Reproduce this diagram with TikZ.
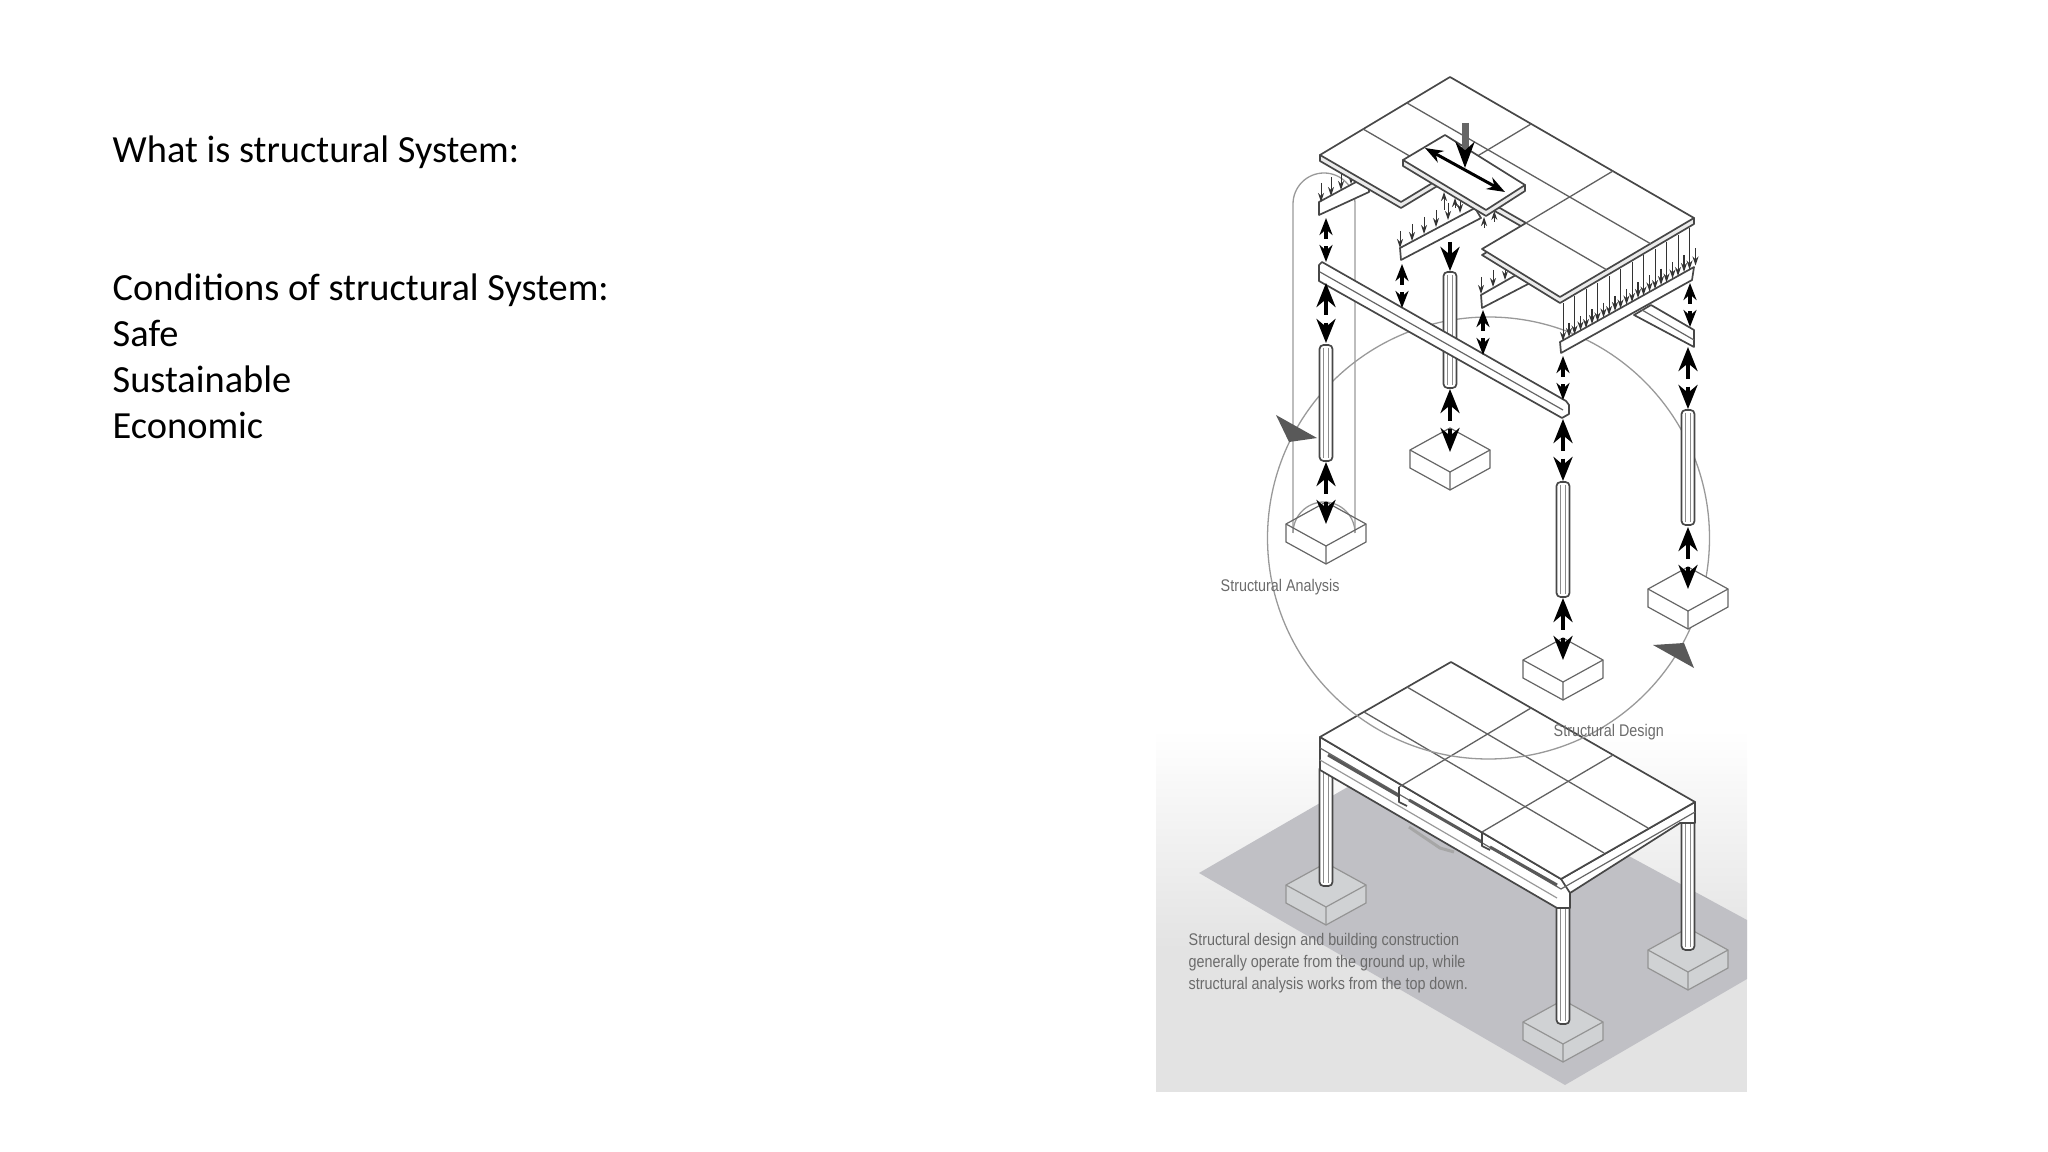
\documentclass[tikz,border=0pt]{standalone}
\usepackage{fontspec}
\setmainfont{Carlito}
\newfontfamily\figfont[FakeStretch=0.85]{Liberation Sans}
\usetikzlibrary{arrows.meta}
\definecolor{groundgrey}{RGB}{192,192,197}
\definecolor{footgrey}{RGB}{208,210,212}
\tikzset{
	frame/.style={line width=0.17mm, draw=black!72, line join=round},
	edge/.style={line width=0.12mm, draw=black!60},
	grid/.style={line width=0.13mm, draw=black!62},
	ghost/.style={line width=0.13mm, draw=black!40},
	heavyload/.style={line width=0.45mm, {Stealth[length=2.4mm,width=1.9mm]}-{Stealth[length=2.4mm,width=1.9mm]}, dash pattern=on 1.7mm off 0.8mm},
	smallload/.style={line width=0.35mm, {Stealth[length=1.7mm,width=1.3mm]}-{Stealth[length=1.7mm,width=1.3mm]}, dash pattern=on 1.1mm off 0.7mm},
	thinload/.style={line width=0.1mm, draw=black!80, -{Stealth[length=0.9mm,width=0.6mm]}},
	maintext/.style={anchor=base west, inner sep=0pt, font=\fontsize{10.92pt}{12pt}\selectfont},
	figtext/.style={anchor=base west, inner sep=0pt, text=black!58, font=\figfont\fontsize{4.8pt}{5pt}\selectfont}
}
\def\footing[#1](#2,#3){\draw[edge, #1] (#2,#3) -- ++(40,22) -- ++(0,18) -- ++(-40,22) -- ++(-40,-22) -- ++(0,-18) -- cycle;
	\draw[edge, #1, fill=none] (#2-40,#3+22) -- (#2,#3+44) -- (#2+40,#3+22) (#2,#3+44) -- (#2,#3+62);}
\def\strut(#1,#2,#3){\draw[frame, fill=white, rounded corners=0.4mm] (#1-6.5,#2) rectangle (#1+6.5,#3);
	\draw[edge, draw=black!45] (#1-2.5,#2+3) -- (#1-2.5,#3-3) (#1+2.5,#2+3) -- (#1+2.5,#3-3);}

\begin{document}
\begin{tikzpicture}[x=0.01cm, y=-0.01cm]
			\useasboundingbox (0, 0) rectangle (2048, 1152);
			
			%%%%% TEXT %%%%%
			\node[maintext] (whatis) at (112, 163) {What is structural System:};
			\node[maintext] (conditions) at (112, 301) {Conditions of structural System:};
			\node[maintext] (safe) at (112, 347) {Safe};
			\node[maintext] (sustainable) at (112, 393) {Sustainable};
			\node[maintext] (economic) at (112, 439) {Economic};
			
			%%%%% GROUND %%%%%
			\shade[top color=white, bottom color=black!11] (1156, 730) rectangle (1747, 950);
			\fill[black!11] (1156, 950) rectangle (1747, 1092);
			\fill[groundgrey] (1199, 873) -- (1422, 744) -- (1747, 920) -- (1747, 979) -- (1565, 1085) -- cycle;
			
			\footing[draw=black!42, fill=footgrey](1326, 863);
			\footing[draw=black!42, fill=footgrey](1688, 928);
			\footing[draw=black!42, fill=footgrey](1563, 1000);
			\draw[line width=0.3mm, draw=black!35] (1409, 827) -- (1440, 848) -- (1454, 852);
			
			%%%%% BUILT TABLE %%%%%
			\strut(1326, 765, 886);
			\strut(1688, 820, 950);
			\strut(1563, 900, 1024);
			
			\draw[frame, fill=white] (1320, 737) -- (1561, 879) -- (1570, 879) -- (1570, 908) -- (1557, 908) -- (1320, 770) -- cycle;
			\draw[frame, fill=white] (1561, 879) -- (1695, 802) -- (1695, 823) -- (1680, 823) -- (1570, 893) -- cycle;
			\draw[edge] (1320, 748) -- (1561, 889) -- (1695, 812);
			\draw[edge, draw=black!40] (1320, 760) -- (1557, 898);
			\draw[line width=0.3mm, draw=black!65] (1328, 755) -- (1399, 796);
			\draw[line width=0.3mm, draw=black!65] (1409, 800) -- (1482, 842);
			\draw[line width=0.3mm, draw=black!65] (1490, 847) -- (1557, 885);
			\draw[frame] (1399, 787) -- (1399, 802) -- (1407, 806);
			\draw[frame] (1482, 830) -- (1482, 846) -- (1490, 850);
			
			\draw[frame, fill=white] (1451, 662) -- (1320, 737) -- (1561, 879) -- (1695, 802) -- cycle;
			\draw[grid] (1407, 687) -- (1648, 828);
			\draw[grid] (1364, 712) -- (1604, 853);
			\draw[grid] (1531, 708) -- (1399, 787);
			\draw[grid] (1613, 755) -- (1482, 832);
			
			\node[figtext] (captiona) at (1188, 945) {Structural design and building construction};
			\node[figtext] (captionb) at (1188, 967) {generally operate from the ground up, while};
			\node[figtext] (captionc) at (1188, 989) {structural analysis works from the top down.};
			
			%%%%% CYCLE %%%%%
			\draw[ghost] (1488.5, 538) circle (221);
			\draw[ghost, rounded corners=3.1mm] (1293, 533) -- (1293, 173) -- (1355, 173) -- (1355, 533);
			\draw[ghost] (1293, 533) arc (180:360:31);
			\fill[black!65] (1276, 415) -- (1317, 438) -- (1289, 442) -- cycle;
			\fill[black!65] (1653, 645) -- (1684, 643) -- (1694, 668) -- cycle;
			\node[figtext] (analysis) at (1220, 592) {Structural Analysis};
			\node[figtext] (design) at (1553, 736) {Structural Design};
			
			%%%%% FOOTINGS AND COLUMNS %%%%%
			\footing[fill=white](1450, 428);
			\footing[](1326, 502);
			\footing[fill=white](1563, 638);
			\footing[fill=white](1688, 567);
			
			\strut(1326, 345, 461);
			\strut(1450, 272, 388);
			\strut(1563, 482, 597);
			\strut(1688, 410, 525);
			
			%%%%% BEAMS %%%%%
			\draw[frame, fill=white] (1651, 305) -- (1694, 330) -- (1694, 347) -- (1634, 315) -- cycle;
			\draw[edge] (1642, 310) -- (1694, 340);
			
			\draw[frame, fill=white] (1322, 262) -- (1566, 401) -- (1569, 405) -- (1569, 414) -- (1562, 418) -- (1319, 281) -- (1319, 265) -- cycle;
			\draw[edge] (1320, 272) -- (1563, 410);
			
			\draw[frame, fill=white] (1319, 202) -- (1369, 175) -- (1369, 192) -- (1319, 215) -- cycle;
			\draw[frame, fill=white] (1400, 248) -- (1475, 208) -- (1481, 218) -- (1401, 260) -- cycle;
			\draw[frame, fill=white] (1481, 295) -- (1530, 267) -- (1530, 283) -- (1482, 308) -- cycle;
			\draw[frame, fill=white] (1560, 342) -- (1694, 267) -- (1692, 280) -- (1561, 353) -- cycle;
			
			%%%%% THIN LOADS %%%%%
			\foreach \k in {0,...,3}{\draw[thinload] ({1321+10*\k}, {183-6*\k}) -- ({1321+10*\k}, {202-6*\k});}
			\foreach \k in {0,...,5}{\draw[thinload] ({1400+12*\k}, {231-7*\k}) -- ({1400+12*\k}, {248-7*\k});}
			\foreach \k in {0,...,3}{\draw[thinload] ({1481+12*\k}, {277-7*\k}) -- ({1481+12*\k}, {294-7*\k});}
			\foreach \k in {0,...,11}{\draw[thinload] ({1563+11.5*\k}, {303-6.8*\k}) -- ({1563+11.5*\k}, {341-6.5*\k});}
			\foreach \k in {0,...,11}{\draw[thinload, line width=0.18mm] ({1569+11.5*\k}, {323-6.8*\k}) -- ({1569+11.5*\k}, {337-6.5*\k});}
			\foreach \k in {0,...,4}{\draw[thinload] ({1484+10.3*\k}, {228-6*\k}) -- ({1484+10.3*\k}, {217-6*\k});}
			\draw[thinload] (1403, 182) -- (1403, 167);
			\draw[thinload] (1412, 182) -- (1412, 172);
			\draw[thinload] (1444, 210) -- (1444, 192);
			\draw[thinload] (1455, 208) -- (1455, 198);
			
			%%%%% SLABS %%%%%
			\draw[frame, fill=black!8] (1320, 155) -- (1320, 161) -- (1401, 208) -- (1444, 182) -- (1526, 229) -- (1482, 255) -- (1560, 303) -- (1694, 224) -- (1694, 218) -- cycle;
			\draw[frame, fill=white] (1320, 155) -- (1450, 77) -- (1694, 218) -- (1560, 297) -- (1482, 249) -- (1526, 223) -- (1444, 176) -- (1401, 202) -- cycle;
			\draw[grid] (1407, 103) -- (1651, 244);
			\draw[grid] (1363, 129) -- (1444, 176);
			\draw[grid] (1526, 223) -- (1607, 270);
			\draw[grid] (1531, 124) -- (1444, 176);
			\draw[grid] (1613, 171) -- (1526, 223);
			
			\draw[frame, fill=black!8] (1403, 160) -- (1403, 166) -- (1486, 216) -- (1525, 191) -- (1525, 185) -- cycle;
			\draw[frame, fill=white] (1445, 135) -- (1403, 160) -- (1486, 210) -- (1525, 185) -- cycle;
			
			%%%%% LOAD PATH %%%%%
			\draw[heavyload] (1326, 283) -- (1326, 343);
			\draw[smallload] (1326, 218) -- (1326, 262);
			\draw[smallload] (1402, 264) -- (1402, 308);
			\draw[smallload] (1483, 310) -- (1483, 355);
			\draw[smallload] (1563, 356) -- (1563, 400);
			\draw[smallload] (1690, 283) -- (1690, 327);
			\draw[heavyload] (1688, 347) -- (1688, 409);
			\draw[heavyload] (1450, 389) -- (1450, 452);
			\draw[heavyload] (1563, 419) -- (1563, 481);
			\draw[heavyload] (1326, 462) -- (1326, 524);
			\draw[heavyload] (1563, 598) -- (1563, 660);
			\draw[heavyload] (1688, 527) -- (1688, 589);
			\draw[line width=0.45mm, -{Stealth[length=2.4mm,width=1.9mm]}] (1450, 242) -- (1450, 271);
			\draw[line width=0.7mm, draw=black!60, -{Stealth[length=2.6mm,width=1.9mm,black]}] (1465, 123) -- (1465, 168);
			\draw[line width=0.3mm, {Stealth[length=1.8mm,width=1.3mm]}-{Stealth[length=1.8mm,width=1.3mm]}] (1425, 148) -- (1505, 192);
			
			%%%%% END %%%%%
\end{tikzpicture}
\end{document}
